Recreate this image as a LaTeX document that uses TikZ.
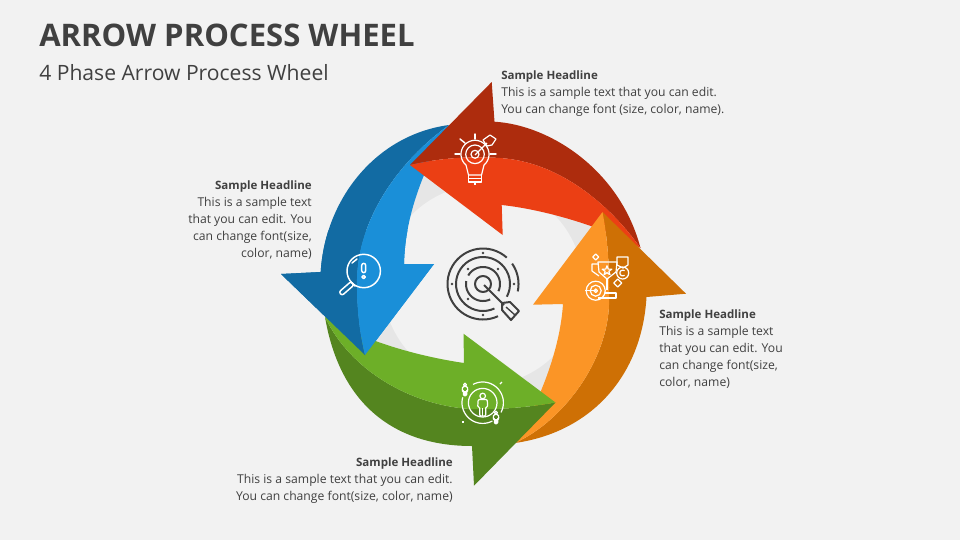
\documentclass[tikz,border=0pt]{standalone}
\usepackage{fontspec}
\setmainfont{Open Sans}
\definecolor{bg}{HTML}{F2F2F2}
\definecolor{ringc}{HTML}{E6E6E6}
\definecolor{txt}{HTML}{404040}
\definecolor{redL}{HTML}{EB3F14}
\definecolor{redD}{HTML}{AD2C0D}
\definecolor{bluL}{HTML}{1A8FD8}
\definecolor{bluD}{HTML}{126BA3}
\definecolor{grnL}{HTML}{6DAF28}
\definecolor{grnD}{HTML}{54851F}
\definecolor{orgL}{HTML}{FB9526}
\definecolor{orgD}{HTML}{CE7005}
\tikzset{
  x=0.75pt,y=-0.75pt,
  body/.style={font=\fontsize{9.13}{12.75}\selectfont,text=txt,inner sep=0pt},
  ico/.style={draw=white,line width=0.9pt,fill=none,line join=round},
  icob/.style={draw=white,line width=1.1pt,fill=none,line cap=round,line join=round},
  icod/.style={draw=txt,line width=1.5pt,fill=none,line join=round}
}
\newcommand{\hl}[1]{{\fontsize{8.65}{12.75}\selectfont\bfseries #1}}
% arc in screen coordinates: style, cx, cy, r, from angle, to angle
\newcommand{\darc}[6]{\draw[#1] plot[smooth,domain=#5:#6,samples=40] ({#2+#4*cos(\x)},{#3-#4*sin(\x)});}
\newcommand{\person}[3]{\begin{scope}[shift={(#1,#2)},scale=#3]
  \draw[ico] (0,0) circle[radius=2.8];
  \draw[ico,rounded corners=0.8pt] (-4.5,3.5) -- (4.5,3.5) -- (5,11) -- (3,11) -- (3,20) -- (-3,20) -- (-3,11) -- (-5,11) -- cycle;
  \draw[ico] (0,12) -- (0,20);
\end{scope}}
\newcommand{\redD}{\fill[redD] (410,165) -- (491.7,82) -- (494.5,121.7) .. controls (550,125) and (620,170) .. (640.5,248) .. controls (610,205) and (560,162) .. (500,158) .. controls (470,156) and (440,158) .. (410,165) -- cycle;}
\newcommand{\redL}{\fill[redL] (410,165) .. controls (440,158) and (470,156) .. (500,158) .. controls (560,162) and (610,205) .. (640.5,248) .. controls (600,225) and (540,209) .. (501.7,205) -- (502.7,235) -- cycle;}
\newcommand{\orgD}{\fill[orgD] (602.5,212) -- (686,293.7) -- (646.5,297) .. controls (642,375) and (592,432) .. (515,443) .. controls (565,420) and (607,360) .. (609,305) .. controls (610,275) and (608,240) .. (602.5,212) -- cycle;}
\newcommand{\orgL}{\fill[orgL] (602.5,212) .. controls (608,240) and (610,275) .. (609,305) .. controls (607,360) and (565,420) .. (515,443) .. controls (540,400) and (560,350) .. (563,304) -- (533,304.7) -- cycle;}
\newcommand{\grnD}{\fill[grnD] (325,317) .. controls (350,370) and (410,405) .. (470,409) .. controls (500,410) and (530,407) .. (555.5,402.5) -- (474,485.7) -- (472,446) .. controls (395,446) and (340,405) .. (325,317) -- cycle;}
\newcommand{\grnL}{\fill[grnL] (325,317) .. controls (370,345) and (430,358) .. (464,363) -- (463.5,333.7) -- (555.5,402.5) .. controls (530,407) and (500,410) .. (470,409) .. controls (410,405) and (350,370) .. (325,317) -- cycle;}
\newcommand{\bluD}{\fill[bluD] (449,125) .. controls (400,160) and (355,220) .. (357,287) .. controls (357,310) and (360,335) .. (365,355) -- (281,274) -- (320.7,272) .. controls (325,200) and (375,135) .. (449,125) -- cycle;}
\newcommand{\bluL}{\fill[bluL] (449,125) .. controls (400,160) and (355,220) .. (357,287) .. controls (357,310) and (360,335) .. (365,355) -- (434,264) -- (404,264) .. controls (405,220) and (420,175) .. (449,125) -- cycle;}
\begin{document}
\begin{tikzpicture}
\useasboundingbox (0,0) rectangle (960,540);
\fill[bg] (0,0) rectangle (960,540);
% ring
\fill[ringc] (483,285) circle[radius=125];
\fill[bg] (483,285) circle[radius=100];
% arrows (cyclic overlap)
\bluD \bluL
\redD \redL
\orgD \orgL
\grnD \grnL
\begin{scope}
\clip (270,230) rectangle (450,360);
\bluD \bluL
\end{scope}
% centre target
\draw[icod] (483,284) circle[radius=8];
\darc{icod}{483}{284}{17}{-25}{150}
\darc{icod}{483}{284}{17}{170}{295}
\darc{icod}{483}{284}{27}{-28}{295}
\darc{icod}{483}{284}{35.5}{48}{295}
\darc{icod}{483}{284}{35.5}{35}{-12}
\draw[icod] (484,285) -- (504,305);
\draw[icod] (502,303) -- (510,302) -- (519,311) -- (511,320) -- (502,310) -- cycle;
\draw[icod,line width=1pt] (506,307) -- (515,315);
\foreach \p/\q in {483/253,483/315,452/284,514/284,468/269,498/269,468/299}
  \fill[txt] (\p,\q) circle[radius=1.4];
% bulb icon
\darc{ico}{475}{154.3}{14}{-50}{230}
\draw[ico] (475,154.3) circle[radius=9.3];
\draw[ico] (475,154.3) circle[radius=4];
\draw[ico] (475,155) -- (487,143);
\draw[ico] (483,140) -- (490,135) -- (496,139) -- (492,145) -- (487,146) -- cycle;
\draw[ico] (466,165) -- (468.5,175) -- (481.5,175) -- (484,165);
\draw[ico] (468.5,175) -- (468.5,182) -- (481.5,182) -- (481.5,175);
\draw[ico] (468.5,178.5) -- (481.5,178.5);
\draw[ico] (475,182) -- (475,184.5);
\draw[icob] (475,134) -- (475,139);
\draw[icob] (455,154) -- (460,154);
\draw[icob] (490,154) -- (496,154);
\draw[icob] (460,139) -- (465,143);
% magnifier icon
\draw[icob] (363.7,271) circle[radius=16.7];
\draw[icob] (352,263) -- (357,259);
\draw[icob,rounded corners=1.6pt] (361.7,263.3) rectangle (365.7,272.7);
\draw[icob] (363.7,277) circle[radius=1.7];
\draw[icob] (352,283) -- (355,286);
\draw[icob,rounded corners=1.5pt] (351,281.5) -- (339,292) -- (342,295.5) -- (354,285) -- cycle;
% trophy icon
\draw[ico] (598,262) -- (617,262) -- (616,272) -- (607,279) -- (599,272) -- cycle;
\draw[ico] (598,264) -- (592,264) -- (592,271) -- (599,276);
\draw[ico] (607,265.7) -- (608.2,269.1) -- (611.8,269.2) -- (608.9,271.3) -- (610,274.7) -- (607,272.7) -- (604,274.7) -- (605.1,271.3) -- (602.2,269.2) -- (605.8,269.1) -- cycle;
\draw[ico] (607,279) -- (607,290);
\draw[ico] (605,293) -- (616,293) -- (616,298) -- (598,298);
\draw[ico] (595.7,290.7) circle[radius=9.5];
\draw[ico] (595.7,290.7) circle[radius=5.5];
\draw[ico] (595.7,290.7) circle[radius=1.8];
\draw[ico] (585,290.7) -- (595.7,290.7);
\draw[ico] (617,257) -- (628,257) -- (628,265) -- (623,268) -- (617,265) -- cycle;
\draw[ico] (622.7,273) circle[radius=6];
\darc{ico}{622.7}{273}{2.8}{50}{310}
\draw[ico] (617.7,279) -- (621.7,283) -- (617.7,287) -- (613.7,283) -- cycle;
\draw[ico] (595.7,254) -- (598.7,257) -- (595.7,260) -- (592.7,257) -- cycle;
% people icon
\darc{ico}{482.7}{402.7}{20.7}{118}{-28}
\darc{ico}{482.7}{402.7}{20.7}{165}{298}
\draw[ico] (482.7,402.7) circle[radius=14.3];
\person{482.7}{396}{1}
\person{465}{384.7}{0.55}
\person{496}{412.7}{0.55}
\draw[ico] (500,384) -- (502,382);
\fill[white] (462,420.5) rectangle (464,422.5);
% text
\node[font=\fontsize{23.3}{28}\selectfont\bfseries,text=txt,anchor=base west,inner sep=0pt] (title) at (39,46) {ARROW PROCESS WHEEL};
\node[font=\fontsize{15.83}{18}\selectfont,text=txt,anchor=base west,inner sep=0pt] (subtitle) at (39,80.7) {4 Phase Arrow Process Wheel};
\node[body,align=left,anchor=north west] (t1) at (501,70) {\hl{Sample Headline}\\This is a sample text that you can edit.\\You can change font (size, color, name).};
\node[body,align=right,anchor=north east] (t2) at (312,180) {\hl{Sample Headline}\\This is a sample text\\that you can edit. You\\can change font(size,\\color, name)};
\node[body,align=left,anchor=north west] (t3) at (659,309) {\hl{Sample Headline}\\This is a sample text\\that you can edit. You\\can change font(size,\\color, name)};
\node[body,align=right,anchor=north east] (t4) at (453,457) {\hl{Sample Headline}\\This is a sample text that you can edit.\\You can change font(size, color, name)};
\end{tikzpicture}
\end{document}
